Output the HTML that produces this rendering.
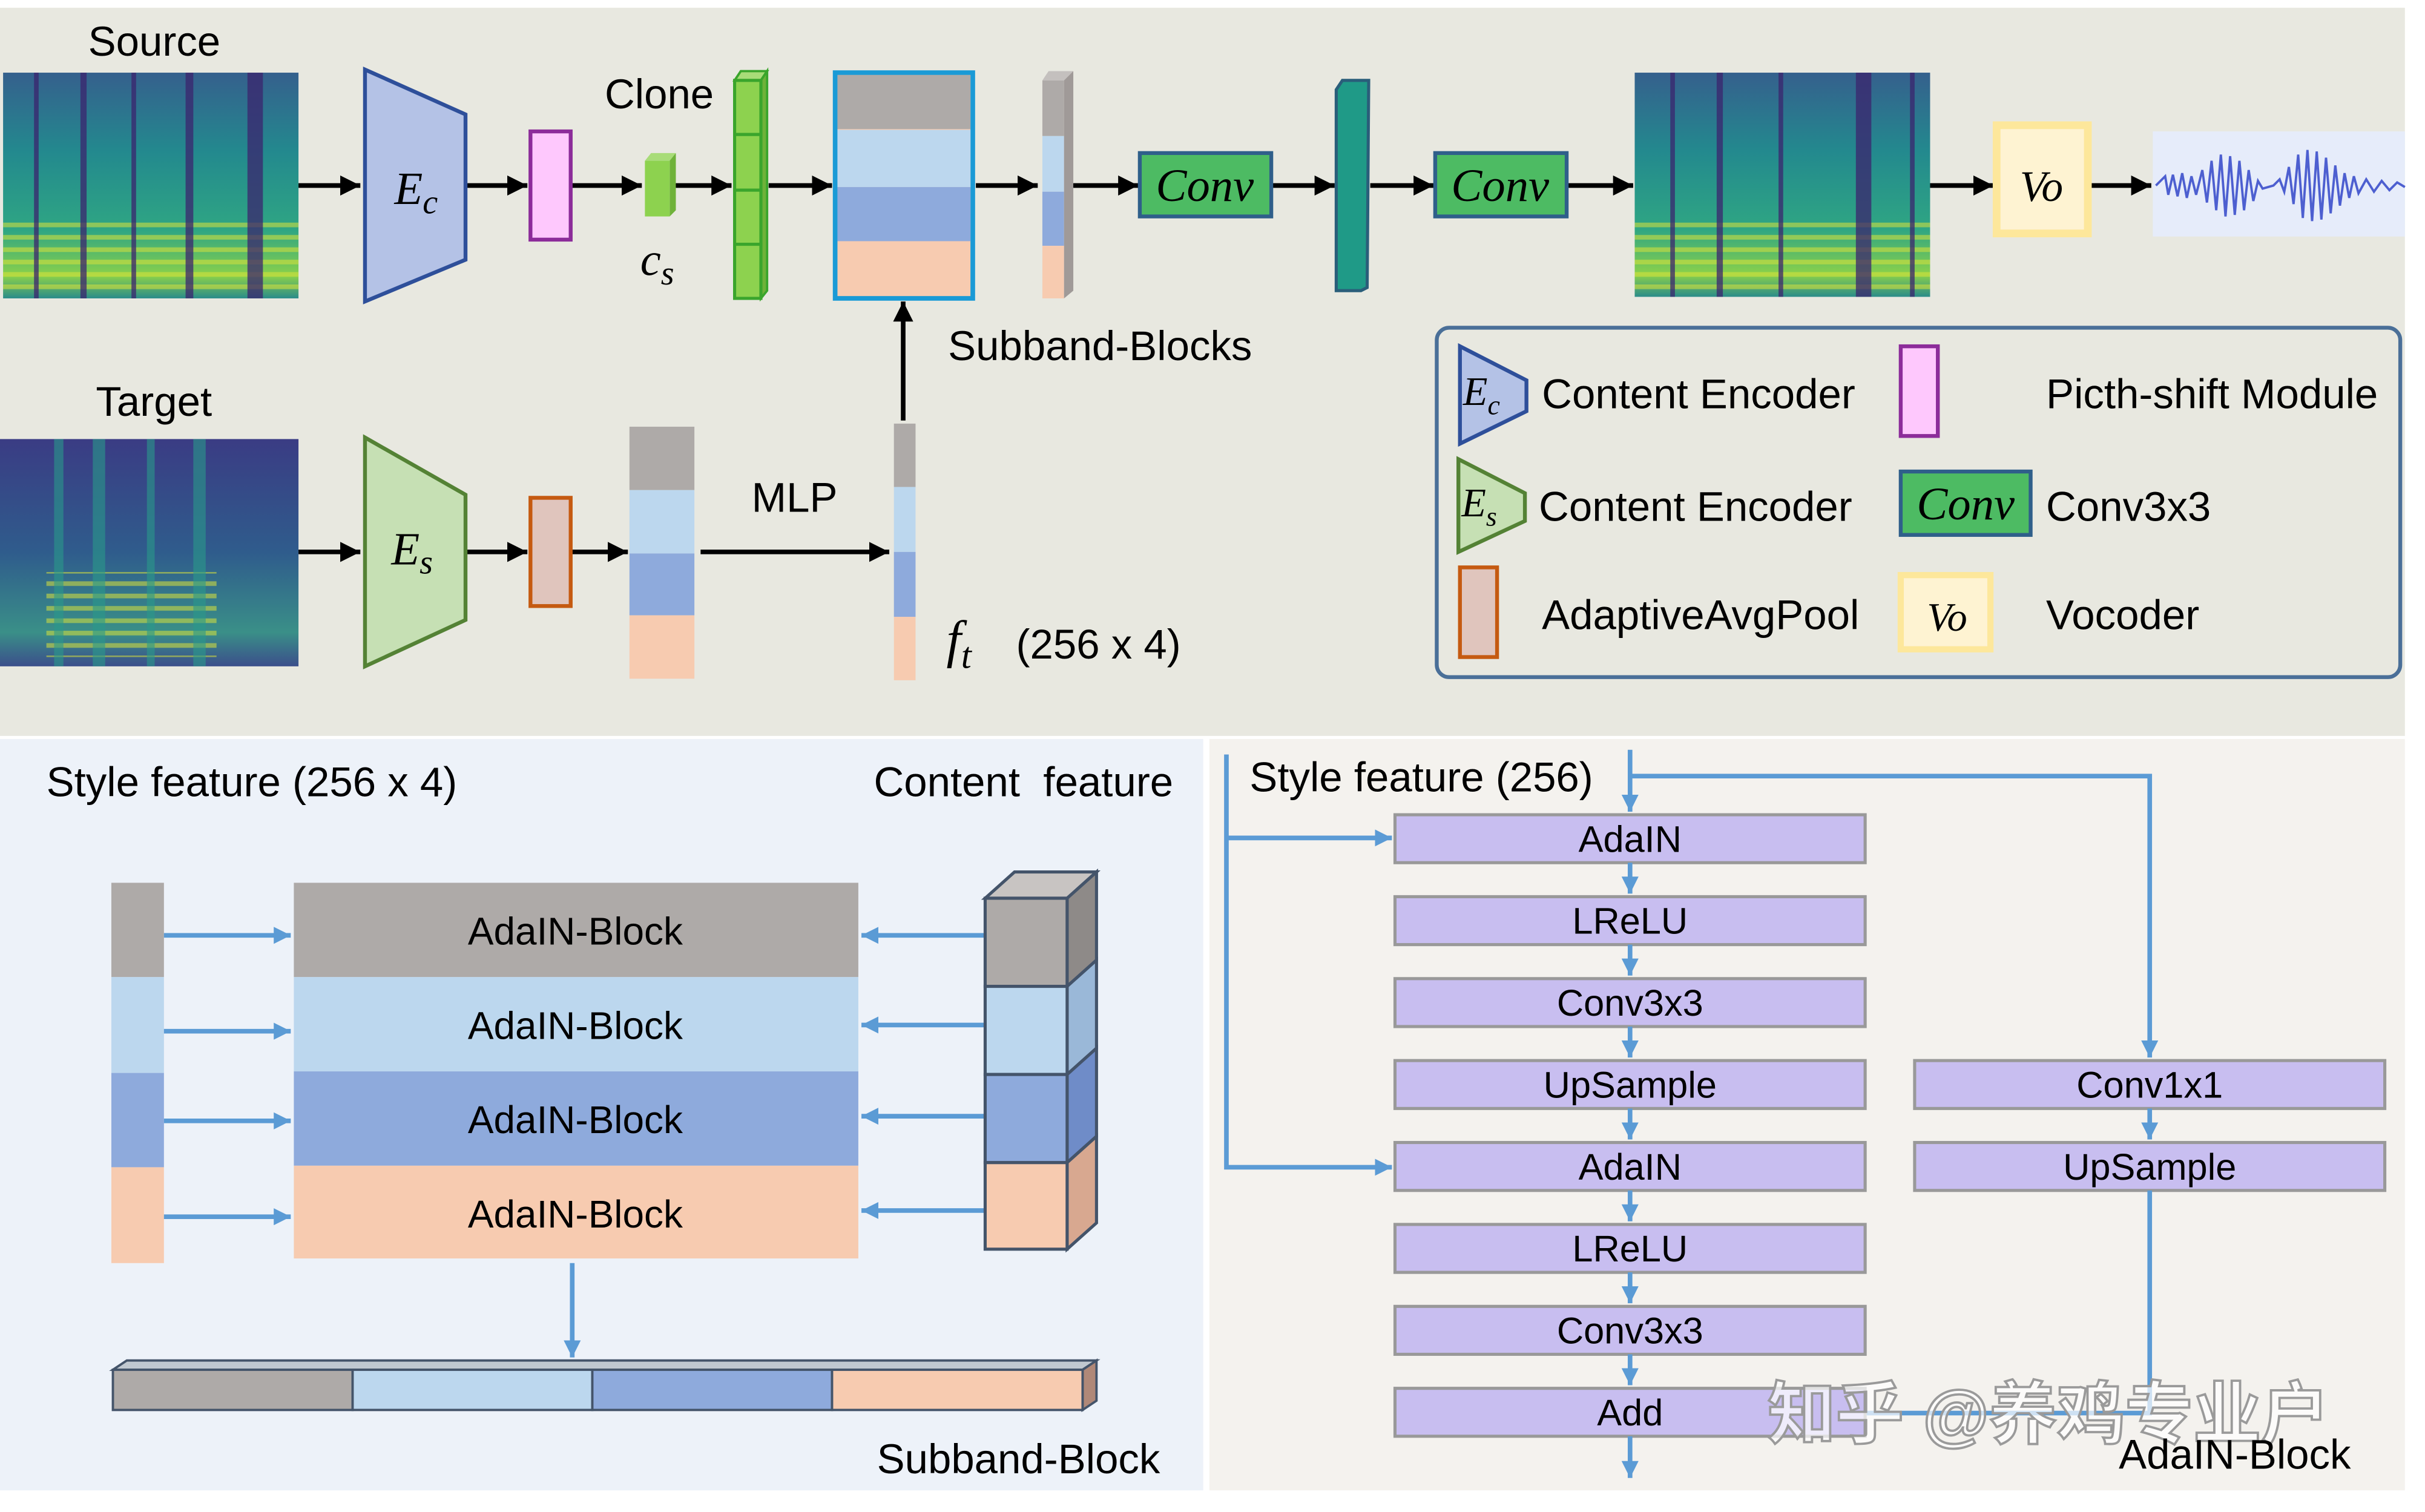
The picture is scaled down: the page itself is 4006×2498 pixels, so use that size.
<!DOCTYPE html>
<html><head><meta charset="utf-8"><style>
html,body{margin:0;padding:0;background:#fff;}
svg{display:block;}
text{font-family:"Liberation Sans",sans-serif;}
.m{font-family:"Liberation Serif",serif;font-style:italic;}
</style></head><body>
<svg width="4006" height="2498" viewBox="0 0 1568 978" preserveAspectRatio="none" xmlns="http://www.w3.org/2000/svg">
<defs>
<marker id="k" viewBox="0 0 10 10" refX="10" refY="5" markerWidth="13" markerHeight="13" orient="auto" markerUnits="userSpaceOnUse"><path d="M0,0 L10,5 L0,10 z" fill="#000"/></marker>
<marker id="b" viewBox="0 0 10 10" refX="10" refY="5" markerWidth="11" markerHeight="11" orient="auto" markerUnits="userSpaceOnUse"><path d="M0,0 L10,5 L0,10 z" fill="#5b9bd5"/></marker>
<linearGradient id="sg" x1="0" y1="0" x2="0" y2="1">
<stop offset="0" stop-color="#35608d"/><stop offset="0.35" stop-color="#23898e"/><stop offset="0.7" stop-color="#2fa683"/><stop offset="0.9" stop-color="#8ad14a"/><stop offset="1" stop-color="#2a8c8a"/></linearGradient>
<linearGradient id="tg" x1="0" y1="0" x2="0" y2="1">
<stop offset="0" stop-color="#3a3c84"/><stop offset="0.5" stop-color="#2f5c8c"/><stop offset="0.85" stop-color="#3a8f88"/><stop offset="1" stop-color="#3b4f8b"/></linearGradient>
<pattern id="hs" width="6" height="8" patternUnits="userSpaceOnUse"><rect width="6" height="3" fill="#d8e23a" opacity="0.55"/></pattern>
</defs>
<rect x="0" y="5" width="1555" height="471" fill="#e8e8e0"/>
<rect x="0" y="478" width="778" height="486" fill="#edf2f9"/>
<rect x="782" y="478" width="773" height="486" fill="#f4f2ee"/>

<text x="57" y="36" font-size="27">Source</text>
<rect x="2" y="47" width="191" height="146" fill="url(#sg)"/>
<rect x="2" y="140" width="191" height="50" fill="url(#hs)"/>
<g fill="#3b246e" opacity="0.75"><rect x="22" y="47" width="3" height="146"/><rect x="52" y="47" width="4" height="146"/><rect x="85" y="47" width="3" height="146"/><rect x="120" y="47" width="5" height="146"/><rect x="160" y="47" width="10" height="146"/></g>
<text x="62" y="269" font-size="27">Target</text>
<rect x="0" y="284" width="193" height="147" fill="url(#tg)"/>
<rect x="30" y="370" width="110" height="55" fill="url(#hs)"/>
<g fill="#2a9a8a" opacity="0.6"><rect x="35" y="284" width="6" height="147"/><rect x="60" y="284" width="8" height="147"/><rect x="95" y="284" width="5" height="147"/><rect x="125" y="284" width="8" height="147"/></g>
<rect x="1057" y="47" width="191" height="145" fill="url(#sg)"/>
<rect x="1057" y="140" width="191" height="48" fill="url(#hs)"/>
<g fill="#3b246e" opacity="0.75"><rect x="1080" y="47" width="3" height="145"/><rect x="1110" y="47" width="4" height="145"/><rect x="1150" y="47" width="3" height="145"/><rect x="1200" y="47" width="10" height="145"/><rect x="1235" y="47" width="3" height="145"/></g>

<g stroke="#000" stroke-width="3" marker-end="url(#k)">
<line x1="193" y1="120" x2="233" y2="120"/>
<line x1="301" y1="120" x2="341" y2="120"/>
<line x1="369" y1="120" x2="415" y2="120"/>
<line x1="435" y1="120" x2="473" y2="120"/>
<line x1="497" y1="120" x2="538" y2="120"/>
<line x1="631" y1="120" x2="671" y2="120"/>
<line x1="692" y1="120" x2="736" y2="120"/>
<line x1="822" y1="120" x2="863" y2="120"/>
<line x1="886" y1="120" x2="927" y2="120"/>
<line x1="1013" y1="120" x2="1056" y2="120"/>
<line x1="1248" y1="120" x2="1289" y2="120"/>
<line x1="1351" y1="120" x2="1391" y2="120"/>
<line x1="584" y1="272" x2="584" y2="195"/>
<line x1="193" y1="357" x2="233" y2="357"/>
<line x1="301" y1="357" x2="341" y2="357"/>
<line x1="369" y1="357" x2="406" y2="357"/>
<line x1="453" y1="357" x2="575" y2="357"/>
</g>

<polygon points="236,45 301,74 301,168 236,195" fill="#b4c2e6" stroke="#2e4f9a" stroke-width="2.5"/>
<text x="255" y="132" class="m" font-size="30">E<tspan font-size="22" dy="6">c</tspan></text>
<rect x="343" y="85" width="26" height="70" fill="#fec8fd" stroke="#8c2c9a" stroke-width="2.5"/>
<text x="391" y="70" font-size="27">Clone</text>
<polygon points="417,104 421,99 437,99 433,104" fill="#a8dc78"/><polygon points="433,104 437,99 437,136 433,140" fill="#6fb23a"/>
<rect x="417" y="104" width="16" height="36" fill="#8dd24f"/>
<text x="414" y="178" class="m" font-size="30">c<tspan font-size="22" dy="6">s</tspan></text>
<polygon points="475,52 479,46 496,46 492,52" fill="#a8dc78" stroke="#3aa52c" stroke-width="1.5"/>
<polygon points="492,52 496,46 496,188 492,193" fill="#6fb23a" stroke="#3aa52c" stroke-width="1.5"/>
<g fill="#8dd24f" stroke="#3aa52c" stroke-width="2"><rect x="475" y="52" width="17" height="35"/><rect x="475" y="87" width="17" height="36"/><rect x="475" y="123" width="17" height="35"/><rect x="475" y="158" width="17" height="35"/></g>

<rect x="540" y="47" width="89" height="146" fill="#f7cbb0" stroke="#1a9ad6" stroke-width="3"/>
<rect x="541.5" y="48.5" width="86" height="35" fill="#aeaaa8"/><rect x="541.5" y="84" width="86" height="37" fill="#bcd7ee"/><rect x="541.5" y="121" width="86" height="35" fill="#8eaadc"/>
<rect x="674" y="52" width="14" height="36" fill="#aeaaa8"/><rect x="674" y="88" width="14" height="36" fill="#bcd7ee"/><rect x="674" y="124" width="14" height="35" fill="#8eaadc"/><rect x="674" y="159" width="14" height="34" fill="#f7cbb0"/>
<polygon points="674,52 678,46 694,46 688,52" fill="#c4c0be"/><polygon points="688,52 694,46 694,188 688,193" fill="#a09a98"/>

<rect x="737" y="99" width="85" height="41" fill="#4dbb63" stroke="#2f5f8a" stroke-width="2.5"/>
<text x="779" y="130" class="m" font-size="30" text-anchor="middle">Conv</text>
<polygon points="864,58 868,52 885,52 884,186 880,188 864,188" fill="#1f9a87" stroke="#2a5e7a" stroke-width="2"/>
<rect x="928" y="99" width="85" height="41" fill="#4dbb63" stroke="#2f5f8a" stroke-width="2.5"/>
<text x="970" y="130" class="m" font-size="30" text-anchor="middle">Conv</text>
<rect x="1291" y="81" width="59" height="70" fill="#fef3d2" stroke="#fde79b" stroke-width="5"/>
<text x="1320" y="130" class="m" font-size="28" text-anchor="middle">Vo</text>
<rect x="1392" y="85" width="163" height="68" fill="#e6ecfa"/>
<path d="M1394,120 L1400,114 L1402,126 L1405,113 L1408,127 L1411,112 L1414,128 L1417,114 L1420,126 L1424,110 L1427,131 L1430,104 L1433,136 L1436,100 L1439,140 L1442,101 L1445,139 L1448,104 L1451,136 L1454,110 L1457,130 L1460,117 L1463,122 L1470,120 L1474,116 L1477,124 L1480,108 L1483,132 L1486,100 L1489,141 L1492,97 L1495,143 L1498,98 L1501,142 L1504,102 L1507,138 L1510,107 L1513,133 L1516,112 L1519,128 L1522,114 L1525,125 L1530,116 L1535,124 L1540,117 L1545,123 L1550,118 L1555,121" fill="none" stroke="#4d5fd0" stroke-width="1.5"/>

<text x="613" y="233" font-size="27">Subband-Blocks</text>

<polygon points="236,283 301,320 301,401 236,431" fill="#c6e0b4" stroke="#548235" stroke-width="2.5"/>
<text x="253" y="365" class="m" font-size="30">E<tspan font-size="22" dy="6">s</tspan></text>
<rect x="343" y="322" width="26" height="70" fill="#e0c5bd" stroke="#c55a11" stroke-width="2.5"/>
<rect x="407" y="276" width="42" height="41" fill="#aeaaa8"/><rect x="407" y="317" width="42" height="41" fill="#bcd7ee"/><rect x="407" y="358" width="42" height="40" fill="#8eaadc"/><rect x="407" y="398" width="42" height="41" fill="#f7cbb0"/>
<text x="486" y="331" font-size="27">MLP</text>
<rect x="578" y="274" width="14" height="41" fill="#aeaaa8"/><rect x="578" y="315" width="14" height="42" fill="#bcd7ee"/><rect x="578" y="357" width="14" height="42" fill="#8eaadc"/><rect x="578" y="399" width="14" height="41" fill="#f7cbb0"/>
<text x="612" y="425" class="m" font-size="34">f<tspan font-size="24" dy="7">t</tspan></text>
<text x="657" y="426" font-size="27">(256 x 4)</text>

<rect x="929" y="212" width="623" height="226" rx="8" fill="none" stroke="#4a6f98" stroke-width="2.5"/>
<polygon points="944,224 987,246 987,266 944,287" fill="#b4c2e6" stroke="#2e4f9a" stroke-width="2.5"/>
<text x="946" y="262" class="m" font-size="26">E<tspan font-size="18" dy="6">c</tspan></text>
<text x="997" y="264" font-size="27">Content Encoder</text>
<rect x="1229" y="224" width="24" height="58" fill="#fec8fd" stroke="#8c2c9a" stroke-width="2.5"/>
<text x="1323" y="264" font-size="27">Picth-shift Module</text>
<polygon points="943,297 986,319 986,337 943,357" fill="#c6e0b4" stroke="#548235" stroke-width="2.5"/>
<text x="945" y="334" class="m" font-size="26">E<tspan font-size="18" dy="6">s</tspan></text>
<text x="995" y="337" font-size="27">Content Encoder</text>
<rect x="1229" y="305" width="84" height="41" fill="#4dbb63" stroke="#2f5f8a" stroke-width="2.5"/>
<text x="1271" y="336" class="m" font-size="30" text-anchor="middle">Conv</text>
<text x="1323" y="337" font-size="27">Conv3x3</text>
<rect x="944" y="367" width="24" height="58" fill="#e0c5bd" stroke="#c55a11" stroke-width="2.5"/>
<text x="997" y="407" font-size="27">AdaptiveAvgPool</text>
<rect x="1229" y="372" width="58" height="48" fill="#fef3d2" stroke="#fde79b" stroke-width="4"/>
<text x="1259" y="408" class="m" font-size="26" text-anchor="middle">Vo</text>
<text x="1323" y="407" font-size="27">Vocoder</text>

<text x="30" y="515" font-size="27">Style feature (256 x 4)</text>
<text x="565" y="515" font-size="27">Content&#160; feature</text>
<rect x="72" y="571" width="34" height="61" fill="#aeaaa8"/><rect x="72" y="632" width="34" height="62" fill="#bcd7ee"/><rect x="72" y="694" width="34" height="61" fill="#8eaadc"/><rect x="72" y="755" width="34" height="62" fill="#f7cbb0"/>
<rect x="190" y="571" width="365" height="61" fill="#aeaaa8"/><rect x="190" y="632" width="365" height="61" fill="#bcd7ee"/><rect x="190" y="693" width="365" height="61" fill="#8eaadc"/><rect x="190" y="754" width="365" height="60" fill="#f7cbb0"/>
<g font-size="25" text-anchor="middle"><text x="372" y="611">AdaIN-Block</text><text x="372" y="672">AdaIN-Block</text><text x="372" y="733">AdaIN-Block</text><text x="372" y="794">AdaIN-Block</text></g>
<g stroke="#5b9bd5" stroke-width="3" marker-end="url(#b)">
<line x1="106" y1="605" x2="188" y2="605"/><line x1="106" y1="667" x2="188" y2="667"/><line x1="106" y1="725" x2="188" y2="725"/><line x1="106" y1="787" x2="188" y2="787"/>
<line x1="637" y1="605" x2="557" y2="605"/><line x1="637" y1="663" x2="557" y2="663"/><line x1="637" y1="722" x2="557" y2="722"/><line x1="637" y1="783" x2="557" y2="783"/>
<line x1="370" y1="817" x2="370" y2="878"/>
</g>
<g stroke="#44546a" stroke-width="2">
<polygon points="637,581 656,564 709,564 690,581" fill="#c8c4c2"/>
<polygon points="690,581 709,564 709,621 690,638" fill="#8e8a88"/>
<polygon points="690,638 709,621 709,678 690,695" fill="#9ab8d8"/>
<polygon points="690,695 709,678 709,735 690,752" fill="#6f8cc8"/>
<polygon points="690,752 709,735 709,791 690,808" fill="#d8a890"/>
<rect x="637" y="581" width="53" height="57" fill="#aeaaa8"/><rect x="637" y="638" width="53" height="57" fill="#bcd7ee"/><rect x="637" y="695" width="53" height="57" fill="#8eaadc"/><rect x="637" y="752" width="53" height="56" fill="#f7cbb0"/>
</g>
<g stroke="#44546a" stroke-width="1.5">
<polygon points="73,886 82,880 709,880 700,886" fill="#c0c8d0"/>
<polygon points="700,886 709,880 709,906 700,912" fill="#b08878"/>
<rect x="73" y="886" width="155" height="26" fill="#aeaaa8"/><rect x="228" y="886" width="155" height="26" fill="#bcd7ee"/><rect x="383" y="886" width="155" height="26" fill="#8eaadc"/><rect x="538" y="886" width="162" height="26" fill="#f7cbb0"/>
</g>
<text x="567" y="953" font-size="27">Subband-Block</text>

<text x="808" y="512" font-size="27">Style feature (256)</text>
<g fill="#c8bef0" stroke="#999" stroke-width="2">
<rect x="902" y="527" width="304" height="31"/><rect x="902" y="580" width="304" height="31"/><rect x="902" y="633" width="304" height="31"/><rect x="902" y="686" width="304" height="31"/><rect x="902" y="739" width="304" height="31"/><rect x="902" y="792" width="304" height="31"/><rect x="902" y="845" width="304" height="31"/><rect x="902" y="898" width="304" height="31"/>
<rect x="1238" y="686" width="304" height="31"/><rect x="1238" y="739" width="304" height="31"/>
</g>
<g font-size="24" text-anchor="middle">
<text x="1054" y="551">AdaIN</text><text x="1054" y="604">LReLU</text><text x="1054" y="657">Conv3x3</text><text x="1054" y="710">UpSample</text><text x="1054" y="763">AdaIN</text><text x="1054" y="816">LReLU</text><text x="1054" y="869">Conv3x3</text><text x="1054" y="922">Add</text>
<text x="1390" y="710">Conv1x1</text><text x="1390" y="763">UpSample</text>
</g>
<g stroke="#5b9bd5" stroke-width="3" fill="none">
<line x1="1054" y1="485" x2="1054" y2="525" marker-end="url(#b)"/>
<line x1="1054" y1="558" x2="1054" y2="578" marker-end="url(#b)"/>
<line x1="1054" y1="611" x2="1054" y2="631" marker-end="url(#b)"/>
<line x1="1054" y1="664" x2="1054" y2="684" marker-end="url(#b)"/>
<line x1="1054" y1="717" x2="1054" y2="737" marker-end="url(#b)"/>
<line x1="1054" y1="770" x2="1054" y2="790" marker-end="url(#b)"/>
<line x1="1054" y1="823" x2="1054" y2="843" marker-end="url(#b)"/>
<line x1="1054" y1="876" x2="1054" y2="896" marker-end="url(#b)"/>
<line x1="1054" y1="929" x2="1054" y2="956" marker-end="url(#b)"/>
<polyline points="1054,502 1390,502 1390,684" marker-end="url(#b)"/>
<line x1="1390" y1="717" x2="1390" y2="737" marker-end="url(#b)"/>
<polyline points="1390,770 1390,914 1207,914"/>
<polyline points="793,488 793,755 900,755" marker-end="url(#b)"/>
<line x1="793" y1="542" x2="900" y2="542" marker-end="url(#b)"/>
</g>
<text x="1143" y="930" font-size="44" fill="#ffffff" fill-opacity="0.7" stroke="#9a9a9a" stroke-width="1.5" style="font-family:'Liberation Sans','Noto Sans CJK SC',sans-serif;font-weight:bold">知乎 @养鸡专业户</text>
<text x="1370" y="950" font-size="27">AdaIN-Block</text>
</svg>
</body></html>
